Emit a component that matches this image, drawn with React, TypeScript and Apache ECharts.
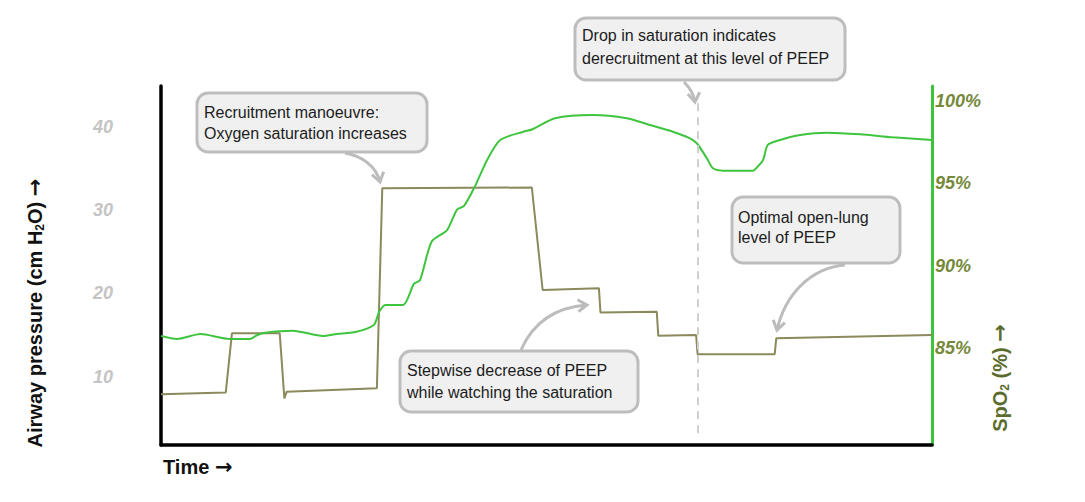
import React, { useEffect, useRef } from "react";
import * as echarts from "echarts";

// Airway pressure (cm H2O) over time (arbitrary time units 0..100)
const pressureTime = [0, 8.4, 9.2, 15.4, 16.0, 16.3, 28.0, 28.7, 48.1, 49.5, 56.8, 57.0, 64.3, 64.5, 69.4, 69.6, 79.6, 79.8, 100];
const pressureValues = [7.9, 8.1, 15.2, 15.2, 7.4, 8.2, 8.6, 32.6, 32.7, 20.4, 20.6, 17.7, 17.8, 14.9, 15.0, 12.7, 12.7, 14.6, 15.0];

// SpO2 (%) over time
const spo2Time = [0, 2.1, 5.1, 8.9, 11.5, 12.5, 13.5, 17.1, 21.0, 22.8, 25.2, 27.6, 28.3, 29.1, 31.4, 32.8, 33.6, 35.1, 37.1, 38.4, 39.3, 40.7, 42.3, 44.0, 47.0, 48.2, 51.1, 56.0, 60.4, 63.4, 66.4, 68.6, 69.5, 70.8, 71.6, 72.9, 76.8, 77.3, 78.1, 78.7, 80.3, 82.9, 86.4, 90.7, 94.9, 100];
const spo2Values = [85.74, 85.56, 85.86, 85.56, 85.56, 85.8, 85.94, 86.06, 85.74, 85.86, 85.98, 86.41, 87.2, 87.62, 87.62, 88.9, 89.13, 91.45, 92.16, 93.4, 93.62, 94.79, 96.41, 97.62, 98.12, 98.27, 98.93, 99.13, 98.93, 98.53, 98.12, 97.72, 97.42, 96.51, 95.9, 95.76, 95.76, 95.96, 96.41, 97.32, 97.62, 97.92, 98.06, 97.96, 97.78, 97.62];

const pressureTicks = [10, 20, 30, 40];
const spo2Ticks = [85, 90, 95, 100];

const derecruitTime = 69.6;

const callouts = [
  { text: "Recruitment manoeuvre:\nOxygen saturation increases", box: [197, 93, 230, 59], tx: 204, ty: 101.5, lh: 21, arrow: [345, 153, 362, 156, 376, 166, 380, 182] },
  { text: "Drop in saturation indicates\nderecruitment at this level of PEEP", box: [575, 18, 270, 62], tx: 582, ty: 23.5, lh: 23, arrow: [684, 82, 690, 88, 694, 95, 695, 102] },
  { text: "Optimal open-lung\nlevel of PEEP", box: [732, 197, 168, 66], tx: 738, ty: 207, lh: 20, arrow: [845, 265, 810, 268, 785, 295, 777, 330] },
  { text: "Stepwise decrease of PEEP\nwhile watching the saturation", box: [400, 351, 238, 61], tx: 407, ty: 359, lh: 22, arrow: [521, 350, 535, 318, 560, 307, 587, 305] },
];

const FONT = "'Liberation Sans', Arial, sans-serif";
const ARROW_FONT = "'DejaVu Sans', sans-serif";
const ARROW_COLOR = "#bcbcbc";

function titleRich(color: string) {
  return {
    m: { fontFamily: FONT, fontSize: 20, fontWeight: "bold", fill: color, lineHeight: 26 },
    s: { fontFamily: FONT, fontSize: 12, fontWeight: "bold", fill: color, lineHeight: 26, verticalAlign: "bottom", padding: [0, 0, 2, 0] },
    a: { fontFamily: ARROW_FONT, fontSize: 21, fontWeight: "bold", fill: color, lineHeight: 26 },
  };
}

function buildGraphic() {
  const els: any[] = [];
  callouts.forEach((c) => {
    const [bx, by, bw, bh] = c.box;
    els.push({
      type: "rect",
      z: 100,
      shape: { x: bx, y: by, width: bw, height: bh, r: 11 },
      style: { fill: "#f0f0f0", stroke: "#bdbdbd", lineWidth: 3 },
    });
    els.push({
      type: "text",
      z: 101,
      x: c.tx,
      y: c.ty,
      style: {
        text: c.text,
        font: `16px ${FONT}`,
        fill: "#1c1c1c",
        lineHeight: c.lh,
        verticalAlign: "top",
        align: "left",
      },
    });
    const [x1, y1, cx1, cy1, cx2, cy2, x2, y2] = c.arrow;
    els.push({
      type: "bezierCurve",
      z: 100,
      shape: { x1, y1, cpx1: cx1, cpy1: cy1, cpx2: cx2, cpy2: cy2, x2, y2 },
      style: { stroke: ARROW_COLOR, lineWidth: 3, fill: "none" },
    });
    const dx = x2 - cx2;
    const dy = y2 - cy2;
    const len = Math.sqrt(dx * dx + dy * dy) || 1;
    const ux = dx / len;
    const uy = dy / len;
    const nx = -uy;
    const ny = ux;
    const back = 9;
    const side = 6;
    els.push({
      type: "polyline",
      z: 100,
      shape: {
        points: [
          [x2 - back * ux + side * nx, y2 - back * uy + side * ny],
          [x2, y2],
          [x2 - back * ux - side * nx, y2 - back * uy - side * ny],
        ],
      },
      style: { stroke: ARROW_COLOR, lineWidth: 3, fill: "none" },
    });
  });

  // Axis titles
  els.push({
    type: "text",
    x: 35,
    y: 313,
    rotation: Math.PI / 2,
    style: {
      text: "{m|Airway pressure (cm H}{s|2}{m|O) }{a|→}",
      align: "center",
      verticalAlign: "middle",
      rich: titleRich("#111"),
    },
  });
  els.push({
    type: "text",
    x: 1000,
    y: 378,
    rotation: Math.PI / 2,
    style: {
      text: "{m|SpO}{s|2}{m| (%) }{a|→}",
      align: "center",
      verticalAlign: "middle",
      rich: titleRich("#5a6b2c"),
    },
  });
  els.push({
    type: "text",
    x: 163,
    y: 467,
    style: {
      text: "{m|Time }{a|→}",
      align: "left",
      verticalAlign: "middle",
      rich: titleRich("#111"),
    },
  });
  return els;
}

export default function App() {
  const ref = useRef<HTMLDivElement>(null);

  useEffect(() => {
    if (!ref.current) return;
    const chart = echarts.init(ref.current, null, { renderer: "svg" });
    const pressureData = pressureTime.map((t, i) => [t, pressureValues[i]]);
    const spo2Data = spo2Time.map((t, i) => [t, spo2Values[i]]);

    chart.setOption({
      animation: false,
      backgroundColor: "#ffffff",
      grid: { left: 161, right: 153, top: 86, bottom: 57, containLabel: false },
      xAxis: {
        type: "value",
        min: 0,
        max: 100,
        axisLine: { show: true, lineStyle: { color: "#000", width: 3.5 } },
        axisTick: { show: false },
        axisLabel: { show: false },
        splitLine: { show: false },
      },
      yAxis: [
        {
          type: "value",
          position: "left",
          min: 1.8,
          max: 44.88,
          axisLine: { show: true, lineStyle: { color: "#000", width: 3.5 } },
          axisTick: { show: false },
          splitLine: { show: false },
          axisLabel: {
            customValues: pressureTicks,
            margin: 48,
            color: "#c4c4c4",
            fontFamily: FONT,
            fontSize: 18,
            fontWeight: "bold",
            fontStyle: "italic",
          },
        },
        {
          type: "value",
          position: "right",
          min: 79.13,
          max: 100.89,
          axisLine: { show: true, lineStyle: { color: "#3cc43c", width: 3 } },
          axisTick: { show: false },
          splitLine: { show: false },
          axisLabel: {
            customValues: spo2Ticks,
            formatter: "{value}%",
            margin: 3,
            color: "#76883a",
            fontFamily: FONT,
            fontSize: 18,
            fontWeight: "bold",
            fontStyle: "italic",
          },
        },
      ],
      series: [
        {
          name: "Airway pressure",
          type: "line",
          yAxisIndex: 0,
          data: pressureData,
          symbol: "none",
          lineStyle: { color: "#8a8a5c", width: 2 },
          z: 3,
          markLine: {
            silent: true,
            symbol: "none",
            label: { show: false },
            lineStyle: { color: "#cfcfcf", type: [8, 6], width: 2 },
            data: [[{ coord: [derecruitTime, 42.8] }, { coord: [derecruitTime, 3.0] }]],
          },
        },
        {
          name: "SpO2",
          type: "line",
          yAxisIndex: 1,
          data: spo2Data,
          symbol: "none",
          smooth: 0.25,
          lineStyle: { color: "#3fc43f", width: 2 },
          z: 4,
        },
      ],
      graphic: buildGraphic(),
    });

    return () => chart.dispose();
  }, []);

  return (
    <div
      ref={ref}
      style={{ position: "fixed", left: 0, top: 0, width: 1085, height: 502, background: "#fff" }}
    />
  );
}
